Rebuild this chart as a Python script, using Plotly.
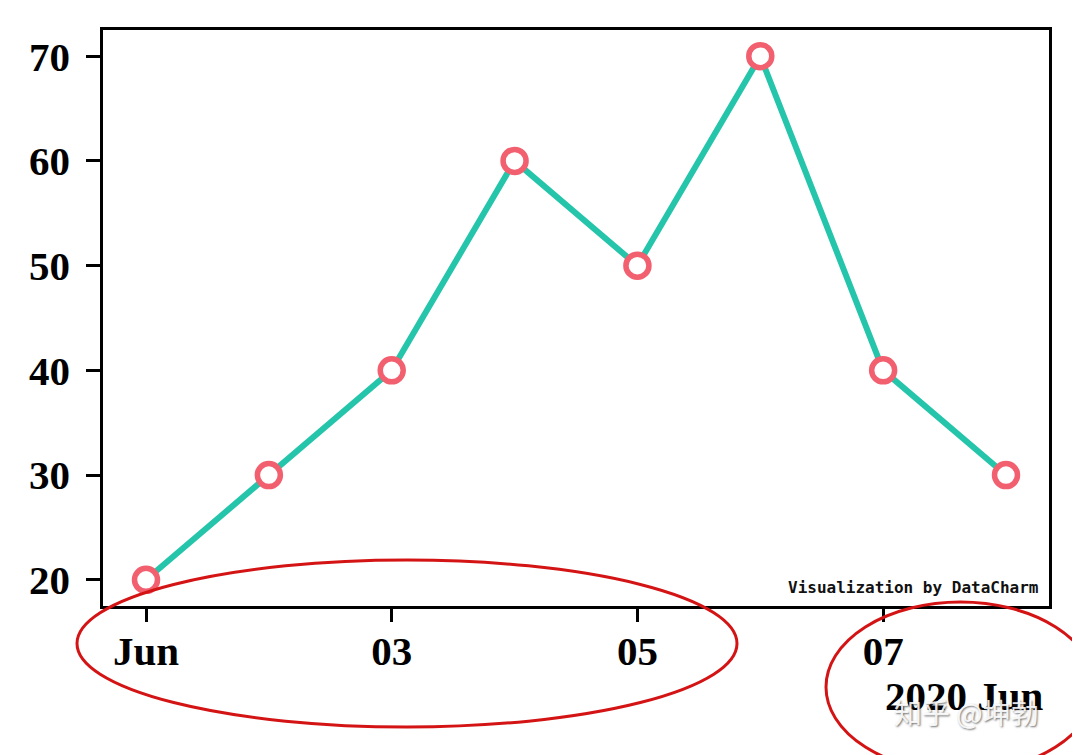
import plotly.graph_objects as go

dates = ["2020-06-01", "2020-06-02", "2020-06-03", "2020-06-04",
         "2020-06-05", "2020-06-06", "2020-06-07", "2020-06-08"]
values = [20, 30, 40, 60, 50, 70, 40, 30]
x_tickvals = ["2020-06-01", "2020-06-03", "2020-06-05", "2020-06-07"]
x_ticktext = ["Jun", "03", "05", "07"]
y_tickvals = [20, 30, 40, 50, 60, 70]
offset_label = "2020 Jun"
credit = "Visualization by DataCharm"
watermark = "知乎 @坤勃"

LINE = "#25C5AB"
MARK = "#F25F6E"
xfont = dict(family="Liberation Serif", size=41, color="black", weight="bold")
yfont = dict(family="Liberation Serif", size=41, color="black", weight="bold")

# page body has an 8px margin: plot area target in window is x 103-1049, y 30-606
PL, PT, PW, PH = 95, 22, 946, 576


def px(x):
    return (x - 8 - PL) / PW


def py(y):
    return (PT + PH - (y - 8)) / PH


fig = go.Figure()
fig.add_trace(go.Scatter(
    x=dates, y=values, mode="lines+markers",
    line=dict(color=LINE, width=6),
    marker=dict(symbol="circle", size=23, color="white",
                line=dict(color=MARK, width=5.5)),
    cliponaxis=False, showlegend=False,
))

fig.update_layout(
    width=1072, height=747,
    margin=dict(l=PL, r=1072 - PL - PW, t=PT, b=747 - PT - PH),
    paper_bgcolor="white", plot_bgcolor="white",
    xaxis=dict(
        type="date",
        range=["2020-05-31 15:36", "2020-06-08 08:24"],
        tickmode="array", tickvals=x_tickvals, ticktext=x_ticktext,
        ticks="outside", ticklen=13, tickwidth=2.5, tickcolor="black",
        ticklabelstandoff=-6,
        tickfont=xfont, showgrid=False, zeroline=False,
        showline=True, linecolor="black", linewidth=2.5, mirror=True,
    ),
    yaxis=dict(
        range=[17.5, 72.5],
        tickmode="array", tickvals=y_tickvals,
        ticks="outside", ticklen=14, tickwidth=2.5, tickcolor="black",
        ticklabelstandoff=8,
        tickfont=yfont, showgrid=False, zeroline=False,
        showline=True, linecolor="black", linewidth=2.5, mirror=True,
    ),
)

fig.add_annotation(
    text=offset_label, xref="paper", yref="paper",
    x=px(883), y=py(696),
    xanchor="left", yanchor="middle", showarrow=False,
    font=xfont,
)
fig.add_annotation(
    text=credit, xref="paper", yref="paper",
    x=px(1041), y=py(587),
    xanchor="right", yanchor="middle", showarrow=False,
    font=dict(family="DejaVu Sans Mono", size=16, color="#111", weight="bold"),
)
fig.add_annotation(
    text=watermark, xref="paper", yref="paper",
    x=px(966), y=py(712),
    xanchor="center", yanchor="middle", showarrow=False,
    font=dict(family="Noto Sans CJK SC", size=28, color="rgba(255,255,255,0.9)",
              shadow="1px 1px 2px rgba(60,60,60,0.8)"),
)

fig.add_shape(type="circle", xref="paper", yref="paper",
              x0=px(77), x1=px(737), y0=py(727), y1=py(560),
              line=dict(color="#D41414", width=3))
fig.add_shape(type="circle", xref="paper", yref="paper",
              x0=px(826), x1=px(1095), y0=py(772), y1=py(602),
              line=dict(color="#D41414", width=3))

fig.write_html("out.html")
